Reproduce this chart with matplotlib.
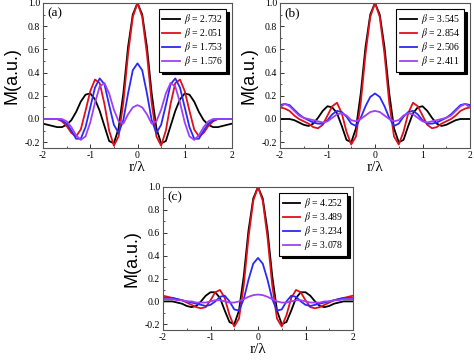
import numpy as np
import matplotlib
matplotlib.use("Agg")
import matplotlib.pyplot as plt
from matplotlib.ticker import MultipleLocator

plt.rcParams['font.family'] = ['Liberation Serif', 'DejaVu Serif']
plt.rcParams['mathtext.fontset'] = 'stix'

r = np.round(np.arange(-2.0, 2.0001, 0.1), 2)

# ---- panel (a) ----
a_labels = ["2.732", "2.051", "1.753", "1.576"]
a_black = [-0.04, -0.05, -0.06, -0.07, -0.07, -0.05, -0.01, 0.06, 0.15, 0.21, 0.22, 0.17, 0.07, -0.06, -0.19, -0.21, -0.08, 0.22, 0.62, 0.90,
           1.00,
           0.90, 0.62, 0.22, -0.08, -0.21, -0.19, -0.06, 0.07, 0.17, 0.22, 0.21, 0.15, 0.06, -0.01, -0.05, -0.07, -0.07, -0.06, -0.05, -0.04]
a_red = [0.0, 0.0, 0.0, 0.0, -0.02, -0.06, -0.12, -0.15, -0.09, 0.07, 0.24, 0.34, 0.31, 0.13, -0.10, -0.23, -0.15, 0.14, 0.56, 0.88,
         1.00,
         0.88, 0.56, 0.14, -0.15, -0.23, -0.10, 0.13, 0.31, 0.34, 0.24, 0.07, -0.09, -0.15, -0.12, -0.06, -0.02, 0.0, 0.0, 0.0, 0.0]
a_blue = [0.0, 0.0, 0.0, 0.0, -0.01, -0.04, -0.10, -0.17, -0.17, -0.07, 0.10, 0.27, 0.35, 0.30, 0.12, -0.05, -0.12, -0.01, 0.22, 0.42,
          0.48,
          0.42, 0.22, -0.01, -0.12, -0.05, 0.12, 0.30, 0.35, 0.27, 0.10, -0.07, -0.17, -0.17, -0.10, -0.04, -0.01, 0.0, 0.0, 0.0, 0.0]
a_purple = [0.0, 0.0, 0.0, 0.0, 0.0, -0.02, -0.07, -0.14, -0.18, -0.15, -0.03, 0.14, 0.28, 0.31, 0.22, 0.08, -0.02, -0.04, 0.04, 0.10,
            0.12,
            0.10, 0.04, -0.04, -0.02, 0.08, 0.22, 0.31, 0.28, 0.14, -0.03, -0.15, -0.18, -0.14, -0.07, -0.02, 0.0, 0.0, 0.0, 0.0, 0.0]

# ---- panel (b) ----
b_labels = ["3.545", "2.854", "2.506", "2.411"]
b_black = [0.0, 0.0, 0.0, -0.01, -0.03, -0.05, -0.06, -0.04, 0.01, 0.07, 0.11, 0.10, 0.05, -0.06, -0.18, -0.20, -0.08, 0.22, 0.62, 0.90,
           1.00,
           0.90, 0.62, 0.22, -0.08, -0.20, -0.18, -0.06, 0.05, 0.10, 0.11, 0.07, 0.01, -0.04, -0.06, -0.05, -0.03, -0.01, 0.0, 0.0, 0.0]
b_red = [0.10, 0.09, 0.07, 0.03, 0.0, -0.02, -0.04, -0.07, -0.08, -0.05, 0.03, 0.11, 0.14, 0.05, -0.11, -0.22, -0.15, 0.14, 0.56, 0.88,
         1.00,
         0.88, 0.56, 0.14, -0.15, -0.22, -0.11, 0.05, 0.14, 0.11, 0.03, -0.05, -0.08, -0.07, -0.04, -0.02, 0.0, 0.03, 0.07, 0.09, 0.10]
b_blue = [0.12, 0.13, 0.12, 0.08, 0.04, 0.01, -0.01, -0.03, -0.04, -0.04, -0.01, 0.04, 0.07, 0.06, 0.02, -0.04, -0.06, 0.01, 0.11, 0.19,
          0.22,
          0.19, 0.11, 0.01, -0.06, -0.04, 0.02, 0.06, 0.07, 0.04, -0.01, -0.04, -0.04, -0.03, -0.01, 0.01, 0.04, 0.08, 0.12, 0.13, 0.12]
b_purple = [0.10, 0.13, 0.11, 0.07, 0.03, 0.01, 0.0, -0.01, -0.02, -0.03, -0.02, 0.01, 0.04, 0.05, 0.03, -0.01, -0.02, 0.0, 0.03, 0.06,
            0.07,
            0.06, 0.03, 0.0, -0.02, -0.01, 0.03, 0.05, 0.04, 0.01, -0.02, -0.03, -0.02, -0.01, 0.0, 0.01, 0.03, 0.07, 0.11, 0.13, 0.10]

# ---- panel (c) ----
c_labels = ["4.252", "3.489", "3.234", "3.078"]
c_black = [0.0, 0.0, 0.0, -0.01, -0.02, -0.04, -0.05, -0.04, 0.0, 0.05, 0.08, 0.08, 0.03, -0.08, -0.18, -0.20, -0.08, 0.22, 0.62, 0.90,
           1.00,
           0.90, 0.62, 0.22, -0.08, -0.20, -0.18, -0.08, 0.03, 0.08, 0.08, 0.05, 0.0, -0.04, -0.05, -0.04, -0.02, -0.01, 0.0, 0.0, 0.0]
c_red = [0.05, 0.04, 0.03, 0.02, 0.01, -0.01, -0.03, -0.05, -0.06, -0.05, 0.01, 0.08, 0.10, 0.03, -0.12, -0.22, -0.15, 0.14, 0.56, 0.88,
         1.00,
         0.88, 0.56, 0.14, -0.15, -0.22, -0.12, 0.03, 0.10, 0.08, 0.01, -0.05, -0.06, -0.05, -0.03, -0.01, 0.01, 0.02, 0.03, 0.04, 0.05]
c_blue = [0.03, 0.03, 0.03, 0.02, 0.01, 0.0, -0.01, -0.02, -0.03, -0.04, -0.03, 0.0, 0.04, 0.05, 0.0, -0.07, -0.08, 0.02, 0.19, 0.33,
          0.38,
          0.33, 0.19, 0.02, -0.08, -0.07, 0.0, 0.05, 0.04, 0.0, -0.03, -0.04, -0.03, -0.02, -0.01, 0.0, 0.01, 0.02, 0.03, 0.03, 0.03]
c_purple = [0.02, 0.02, 0.02, 0.01, 0.01, 0.0, 0.0, -0.01, -0.01, -0.01, 0.0, 0.01, 0.01, 0.0, -0.01, -0.01, 0.0, 0.02, 0.04, 0.055,
            0.06,
            0.055, 0.04, 0.02, 0.0, -0.01, -0.01, 0.0, 0.01, 0.01, 0.0, -0.01, -0.01, -0.01, 0.0, 0.0, 0.01, 0.01, 0.02, 0.02, 0.02]

colors = ['#000000', '#e0101a', '#2a2af5', '#a040f5']

fig = plt.figure(figsize=(4.74, 3.60), dpi=100)
W, H = 474.0, 360.0

def make_ax(left, top, right, bottom):
    return fig.add_axes([left / W, 1 - bottom / H, (right - left) / W, (bottom - top) / H])

panels = [
    (make_ax(43, 3, 232, 148), "(a)", a_labels, [a_black, a_red, a_blue, a_purple]),
    (make_ax(280, 3, 470, 148), "(b)", b_labels, [b_black, b_red, b_blue, b_purple]),
    (make_ax(163, 187, 353, 330), "(c)", c_labels, [c_black, c_red, c_blue, c_purple]),
]

for ax, tag, labels, series in panels:
    for ys, col, lab in zip(series, colors, labels):
        ax.plot(r, ys, color=col, lw=1.3, label=r"$\beta$ = " + lab, solid_joinstyle='round')
    ax.set_xlim(-2, 2)
    ax.set_ylim(-0.25, 1.0)
    ax.set_xticks([-2, -1, 0, 1, 2])
    ax.set_yticks([-0.2, 0.0, 0.2, 0.4, 0.6, 0.8, 1.0])
    ax.set_yticklabels(["-0.2", "0.0", "0.2", "0.4", "0.6", "0.8", "1.0"])
    ax.set_xticklabels(["-2", "-1", "0", "1", "2"])
    ax.xaxis.set_minor_locator(MultipleLocator(0.5))
    ax.yaxis.set_minor_locator(MultipleLocator(0.1))
    ax.tick_params(which='both', direction='in', labelsize=7, pad=2, colors='#333333', labelcolor='black')
    ax.tick_params(which='major', length=3, width=0.7)
    ax.tick_params(which='minor', length=1.5, width=0.6)
    for s in ax.spines.values():
        s.set_color('#555555')
        s.set_linewidth(0.8)
    ax.set_xlabel("r/λ", fontsize=11, labelpad=1)
    ax.set_ylabel("M(a.u.)", fontsize=13, family=['Liberation Sans', 'DejaVu Sans'], labelpad=3)
    ax.text(0.025, 0.93, tag, transform=ax.transAxes, fontsize=9.5, va='center', ha='left')
    leg = ax.legend(loc='upper right', fontsize=7, frameon=True, fancybox=False,
                    shadow={'color': 'black', 'alpha': 1.0},
                    handlelength=1.8, handletextpad=0.4, labelspacing=0.0, borderpad=0.35,
                    borderaxespad=0.6, edgecolor='black', framealpha=1)
    leg.get_frame().set_linewidth(0.8)

fig.savefig("out.png", dpi=100)
